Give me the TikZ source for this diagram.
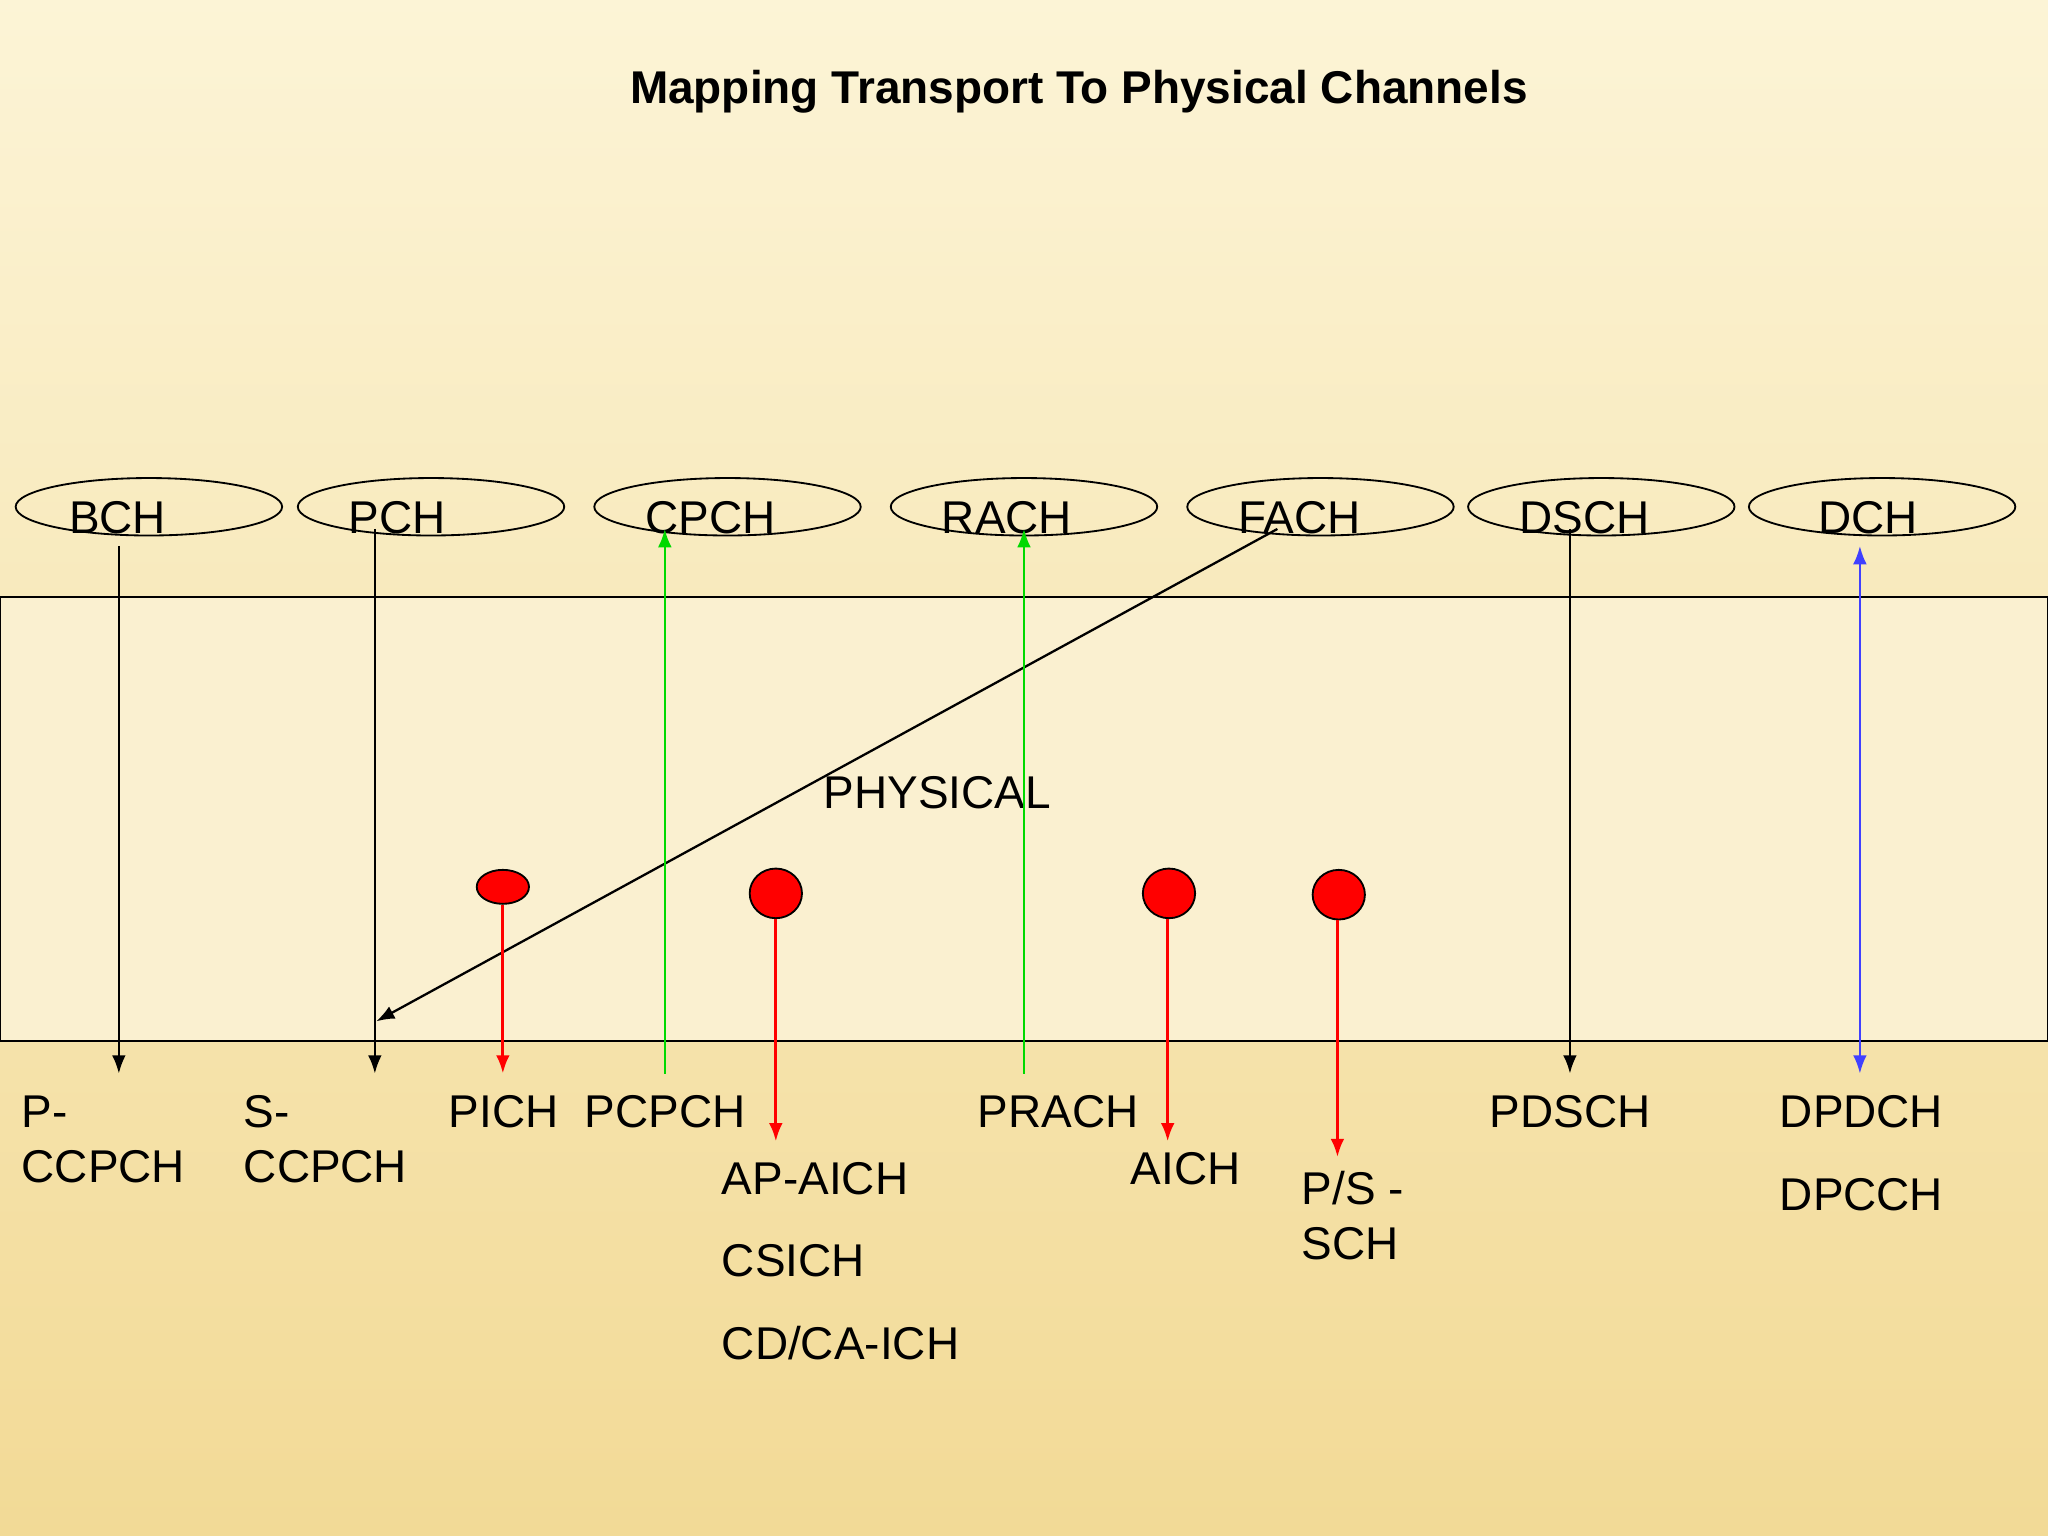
\documentclass[tikz,border=0pt]{standalone}
\usepackage{fontspec}
\setmainfont{Liberation Sans}
\usetikzlibrary{arrows.meta,shapes.geometric}
\begin{document}
\begin{tikzpicture}[x=0.01cm,y=-0.01cm,
 lbl/.style={font=\fontsize{10pt}{12pt}\selectfont,anchor=north west,align=left,inner sep=0},
 dot/.style={draw,fill=red,ellipse,inner sep=0},
 blk/.style={-{Latex[length=4pt,width=3pt]},black,line width=0.5pt},
 grn/.style={-{Latex[length=4pt,width=3pt]},green!85!black,line width=0.5pt},
 rd/.style={-{Latex[length=4pt,width=3pt]},red,line width=0.7pt}]
\useasboundingbox (0,0) rectangle (1568,1176);
\shade[top color={rgb,255:red,252;green,244;blue,214},bottom color={rgb,255:red,242;green,218;blue,150}] (0,0) rectangle (1568,1176);
\node[font=\bfseries\fontsize{10pt}{12pt}\selectfont] (title) at (826,70) {Mapping Transport To Physical Channels};
\draw[fill={rgb,255:red,250;green,240;blue,208}] (0,457) rectangle (1568,797);
\node[lbl,anchor=west] (phys) at (630,607) {PHYSICAL};
\foreach \n/\x in {bch/114,pch/330,cpch/557,rach/784,fach/1011,dsch/1226,dch/1441}
  \draw (\x,388) ellipse (102 and 22) coordinate (\n);
\foreach \t/\x in {BCH/90,PCH/304,CPCH/544,RACH/771,FACH/995,DSCH/1213,DCH/1430}
  \node[font=\fontsize{10pt}{12pt}\selectfont] (t\t) at (\x,396) {\t};
\coordinate (b1) at (91,418); \coordinate (b2) at (91,822);
\coordinate (p1) at (287,405); \coordinate (p2) at (287,822);
\coordinate (f1) at (978,405); \coordinate (f2) at (288,782);
\coordinate (c1) at (509,822); \coordinate (c2) at (509,405);
\coordinate (r1) at (784,822); \coordinate (r2) at (784,405);
\coordinate (d1) at (1202,405); \coordinate (d2) at (1202,822);
\coordinate (e1) at (1424,822); \coordinate (e2) at (1424,418);
\draw[blk] (b1) -- (b2);
\draw[blk] (p1) -- (p2);
\draw[blk] (f1) -- (f2);
\draw[grn] (c1) -- (c2);
\draw[grn] (r1) -- (r2);
\draw[blk] (d1) -- (d2);
\draw[{Latex[length=4pt,width=3pt]}-{Latex[length=4pt,width=3pt]},blue!75!white,line width=0.5pt] (e1) -- (e2);
\node[dot,minimum width=0.4cm,minimum height=0.26cm] (o1) at (385,679) {};
\node[dot,minimum width=0.4cm,minimum height=0.38cm] (o2) at (594,684) {};
\node[dot,minimum width=0.4cm,minimum height=0.38cm] (o3) at (895,684) {};
\node[dot,minimum width=0.4cm,minimum height=0.38cm] (o4) at (1025,685) {};
\coordinate (a1) at (385,822); \coordinate (a2) at (594,874);
\coordinate (a3) at (894,874); \coordinate (a4) at (1024,886);
\draw[rd] (o1.south) -- (a1);
\draw[rd] (o2.south) -- (a2);
\draw[rd] ([xshift=-0.01cm]o3.south) -- (a3);
\draw[rd] ([xshift=-0.01cm]o4.south) -- (a4);
\node[lbl] (l1) at (16,838) {P-\\CCPCH};
\node[lbl] (l2) at (186,838) {S-\\CCPCH};
\node[lbl] (l3) at (343,838) {PICH};
\node[lbl] (l4) at (447,838) {PCPCH};
\node[lbl] (l5) at (552,889) {AP-AICH\\[6pt]CSICH\\[6pt]CD/CA-ICH};
\node[lbl] (l6) at (748,838) {PRACH};
\node[lbl] (l7) at (865,882) {AICH};
\node[lbl] (l8) at (996,896) {P/S -\\SCH};
\node[lbl] (l9) at (1140,838) {PDSCH};
\node[lbl] (l10) at (1362,838) {DPDCH\\[6pt]DPCCH};
\end{tikzpicture}
\end{document}
